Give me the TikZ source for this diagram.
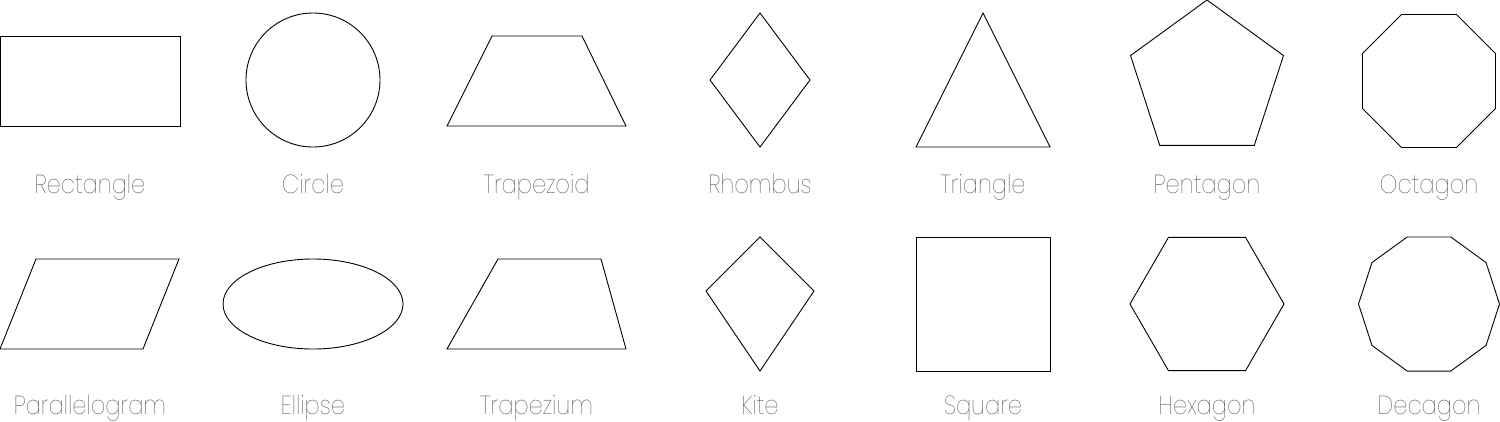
\documentclass[tikz,border=0pt]{standalone}
\usepackage{fontspec}
\setmainfont{Poppins Thin}[FakeStretch=0.87]
\definecolor{labelgray}{HTML}{363636}
\tikzset{
  outline/.style={draw=black,line width=0.9pt,line join=miter},
  lbl/.style={anchor=base,text=labelgray,inner sep=0pt,font=\fontsize{26}{26}\selectfont}
}
\begin{document}
\begin{tikzpicture}[x=1pt,y=-1pt]
\useasboundingbox (0,0) rectangle (1500,421);
% Top row of shapes
\draw[outline] (0,36) rectangle (180,126);
\draw[outline] (313,80) circle[radius=67pt];
\draw[outline] (492,36) -- (582,36) -- (626,126) -- (447,126) -- cycle;
\draw[outline] (760,13) -- (810,80) -- (760,147) -- (710,80) -- cycle;
\draw[outline] (983,13) -- (1050,147) -- (916,147) -- cycle;
% Pentagon, point on top
\draw[outline] (1207,80.4) +(90:80.4pt) \foreach \a in {1,...,4} { -- +(90+72*\a:80.4pt)} -- cycle;
% Octagon, flat on top
\draw[outline] (1429,81) +(22.5:72pt) \foreach \a in {1,...,7} { -- +(22.5+45*\a:72pt)} -- cycle;
% Bottom row of shapes
\draw[outline] (36,259) -- (179,259) -- (143,349) -- (0,349) -- cycle;
\draw[outline] (313,304) ellipse[x radius=90pt,y radius=45pt];
\draw[outline] (498,259) -- (601,259) -- (626,349) -- (447,349) -- cycle;
\draw[outline] (760,237) -- (814,291) -- (760,371) -- (706,291) -- cycle;
\draw[outline] (916,237) rectangle (1050,371);
% Hexagon and decagon, flat on top
\draw[outline] (1207,304) +(0:77pt) \foreach \a in {1,...,5} { -- +(60*\a:77pt)} -- cycle;
\draw[outline] (1429,304) +(0:70.5pt) \foreach \a in {1,...,9} { -- +(36*\a:70.5pt)} -- cycle;
% Names under the shapes
\foreach \x/\name/\txt in {90/rect/Rectangle,313/circ/Circle,536.5/tzoid/Trapezoid,760/rhomb/Rhombus,983/tri/Triangle,1207/pent/Pentagon,1429/oct/Octagon}
{
  \node[lbl] (l\name) at (\x,193) {\txt};
}
\foreach \x/\name/\txt in {90/para/Parallelogram,313/ell/Ellipse,536.5/tzium/Trapezium,760/kite/Kite,983/sq/Square,1207/hex/Hexagon,1429/dec/Decagon}
{
  \node[lbl] (l\name) at (\x,414) {\txt};
}
\end{tikzpicture}
\end{document}
